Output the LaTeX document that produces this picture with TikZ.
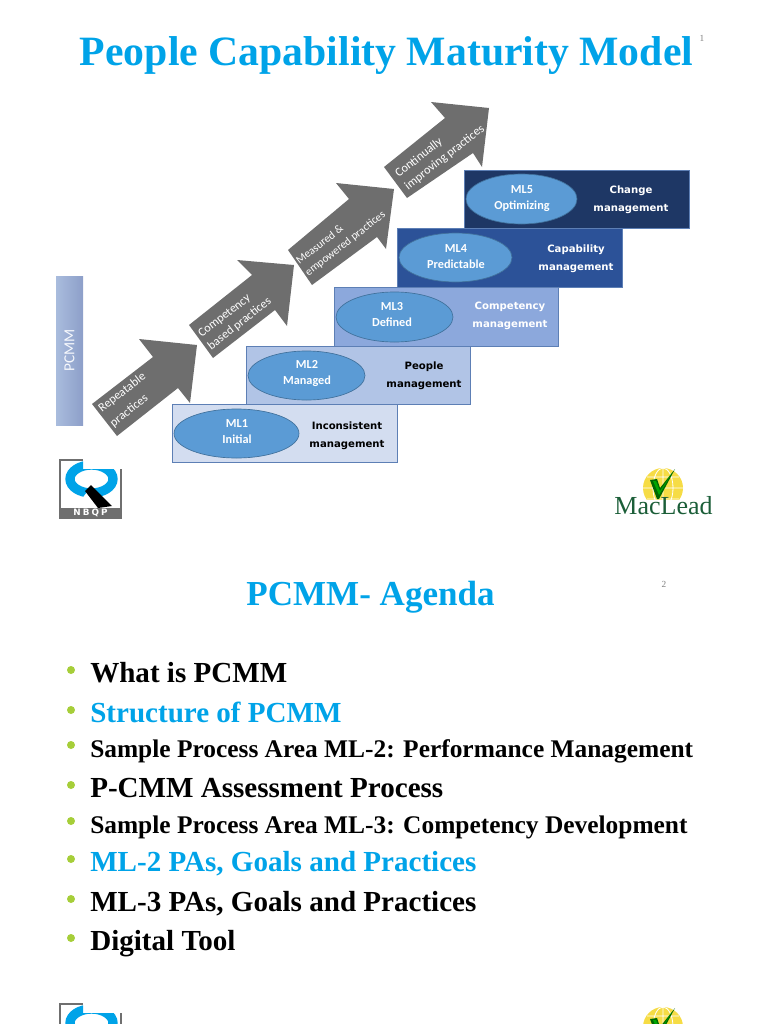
\documentclass[tikz,border=0pt]{standalone}
\usepackage{fontspec}
\setmainfont{Liberation Serif}
\newfontfamily\lab{Carlito}
\newfontfamily\boxf{DejaVu Sans}
\usetikzlibrary{shapes.geometric}
\definecolor{tblue}{HTML}{00A3E8}
\definecolor{bull}{HTML}{A6CE39}
\definecolor{garrow}{HTML}{6E6E6E}
\definecolor{ellc}{HTML}{5B9BD5}
\definecolor{elld}{HTML}{41719C}
\definecolor{mlone}{HTML}{D3DDF0}
\definecolor{mltwo}{HTML}{B1C4E6}
\definecolor{mlthree}{HTML}{8CA8DC}
\definecolor{mlfour}{HTML}{2C5298}
\definecolor{mlfive}{HTML}{1E3765}
\definecolor{edge}{HTML}{5D7FB5}
\definecolor{mlg}{HTML}{1B5E38}
\definecolor{barl}{HTML}{A9BCDD}
\definecolor{barr}{HTML}{8D9FC9}
\definecolor{globe}{HTML}{F6DC45}
\definecolor{nbgray}{HTML}{6F6F6F}
\tikzset{
 x=0.75pt,y=-0.75pt,
 mlbox/.style={draw=edge,line width=0.6pt},
 ell/.style={ellipse,draw=elld,fill=ellc,line width=0.5pt,inner sep=0pt,minimum width=#1},
 elltxt/.style={text=white,font=\lab\bfseries\fontsize{9.2}{12}\selectfont,align=center,inner sep=0pt},
 mgmt/.style={font=\boxf\bfseries\fontsize{7.6}{13.5}\selectfont,align=center,inner sep=0pt},
 arrowtxt/.style={text=white,font=\lab\fontsize{9.2}{#1}\selectfont,align=left,inner sep=0pt},
 gar/.style={fill=garrow,draw=none},
 item/.style={anchor=base west,inner sep=0pt,font=\bfseries\fontsize{#1}{#1}\selectfont},
 bul/.style={circle,fill=bull,inner sep=0pt,minimum size=6pt},
 pnum/.style={text=gray,font=\fontsize{7}{8}\selectfont,inner sep=0pt},
}
\newcommand{\nbqp}[2]{%
 \begin{scope}[shift={(#1,#2)}]
  \draw[nbgray,line width=0.8pt] (23,0) -- (0,0) -- (0,58) -- (61,58) -- (61,9);
  \begin{scope}
  \clip (1,1) rectangle (23,48) (23,9) rectangle (60,48);
  \draw[tblue,line width=7pt] (31.5,19) ellipse (21.5 and 14);
  \fill[white] (24,36) -- (31,27) -- (52,48) -- (16,48) -- cycle;
  \fill[black] (25,31) -- (31,25) -- (52,46) -- (38,48) -- cycle;
  \end{scope}
  \fill[nbgray] (0,48) rectangle (61,58);
 \end{scope}}
\newcommand{\maclogo}[3]{%
 \begin{scope}[shift={(#1,#2)}]
 \begin{scope}
 \clip (-21,-21) rectangle (21,#3);
 \fill[globe] (0,0) circle (20);
 \draw[white,line width=0.6pt] (-20,0) -- (20,0) (0,-20) -- (0,20) (-16,-11) -- (16,-11) (-16,11) -- (16,11) (0,0) ellipse (10 and 20);
 \end{scope}
 \fill[green!40!black] (-13,-8) -- (-6,-9) -- (-3,0) -- (12,-19) -- (-4,11) -- (-6,11) -- cycle;
 \fill[green!65!black] (-10,-7) -- (-7,-7) -- (-3,3) -- (9,-15) -- (-4,7) -- cycle;
 \end{scope}}
\begin{document}
\begin{tikzpicture}
\useasboundingbox (0,0) rectangle (768,1024);
% titles
\node[text=tblue,font=\bfseries\fontsize{31.3}{32}\selectfont,inner sep=0pt] (t1) at (386.5,55.5) {People Capability Maturity Model};
\node[pnum] (n1) at (702,38) {1};
\node[text=tblue,font=\bfseries\fontsize{26.3}{27}\selectfont,inner sep=0pt] (t2) at (370.5,597) {PCMM- Agenda};
\node[pnum] (n2) at (664,584) {2};
% PCMM bar
\node[draw=none,left color=barl,right color=barr,minimum width=20.25pt,minimum height=111.75pt,inner sep=0pt] (bar) at (69.5,350.5) {};
\node[rotate=90,text=white!90!barl,font=\lab\fontsize{11.5}{12}\selectfont,inner sep=0pt] (bart) at (69.5,350.5) {PCMM};
% arrows
\fill[gar] (92,404) -- (117,436) -- (178,388) -- (190,403) -- (197,345) -- (139,339) -- (153,357) -- cycle;
\node[arrowtxt=14,rotate=38] (a1) at (128,400) {Repeatable\\practices};
\fill[gar] (189,325) -- (213,358) -- (275,310) -- (287,326) -- (294,265) -- (237,260) -- (252,275) -- cycle;
\node[arrowtxt=11.5,rotate=38] (a2) at (235,318) {Competency\\based practices};
\fill[gar] (288,250) -- (312,285) -- (377,237) -- (386,249) -- (394,189) -- (336,183) -- (349,199) -- cycle;
\node[arrowtxt=11.5,rotate=38,font=\lab\fontsize{8.4}{11}\selectfont] (a3) at (341,238) {Measured \&\\empowered practices};
\fill[gar] (384,167) -- (407,198) -- (473,153) -- (482,167) -- (489,108) -- (431,102) -- (445,118) -- cycle;
\node[arrowtxt=11.5,rotate=38] (a4) at (440,151.5) {Continually\\improving practices};
% boxes
\node[mlbox,fill=mlone,minimum width=168.75pt,minimum height=43.5pt,inner sep=0pt] (b1) at (284.5,433) {};
\node[mlbox,fill=mltwo,minimum width=168pt,minimum height=43.5pt,inner sep=0pt] (b2) at (358,375) {};
\node[mlbox,fill=mlthree,minimum width=168pt,minimum height=44.25pt,inner sep=0pt] (b3) at (446,316.5) {};
\node[mlbox,fill=mlfour,minimum width=168.75pt,minimum height=44.25pt,inner sep=0pt] (b4) at (509.5,257.5) {};
\node[mlbox,fill=mlfive,minimum width=168.75pt,minimum height=43.5pt,inner sep=0pt] (b5) at (576.5,199) {};
% ellipses
\node[ell=93.75pt,minimum height=36.75pt] (e1) at (236.5,433.5) {};
\node[ell=87.75pt,minimum height=36.75pt] (e2) at (306.5,375.5) {};
\node[ell=87.75pt,minimum height=37.5pt] (e3) at (394.5,317) {};
\node[ell=84.75pt,minimum height=36.75pt] (e4) at (455.5,257.5) {};
\node[ell=83.25pt,minimum height=37.5pt] (e5) at (521.5,199) {};
\node[elltxt] (l1) at (237,432) {ML1\\Initial};
\node[elltxt] (l2) at (307,374) {ML2\\Managed};
\node[elltxt] (l3) at (392,315) {ML3\\Defined};
\node[elltxt] (l4) at (456,257) {ML4\\Predictable};
\node[elltxt] (l5) at (522,199) {ML5\\Optimizing};
\node[mgmt,text=black] (m1) at (347,436) {Inconsistent\\management};
\node[mgmt,text=black] (m2) at (424,375.5) {People\\management};
\node[mgmt,text=white] (m3) at (510,315.5) {Competency\\management};
\node[mgmt,text=white] (m4) at (576,258.5) {Capability\\management};
\node[mgmt,text=white] (m5) at (631,200) {Change\\management};
% logos
\nbqp{60}{460}
\node[text=white,font=\boxf\bfseries\fontsize{6.6}{8}\selectfont,inner sep=0pt] (nb) at (90.5,513) {N\hspace{1.6pt}B\hspace{1.6pt}Q\hspace{1.6pt}P};
\maclogo{663}{488}{11}
\node[text=mlg,font=\fontsize{19.5}{20}\selectfont,inner sep=0pt] (ml) at (663.5,506) {MacLead};
\nbqp{60}{1004}
\maclogo{663}{1027}{21}
% agenda
\foreach \nm/\y/\sz/\col/\txt in {
 i1/682/21.8/black/{What is PCMM},
 i2/722/21.8/tblue/{Structure of PCMM},
 i3/757/19.05/black/{Sample Process Area ML-2: Performance Management},
 i4/797/21.8/black/{P-CMM Assessment Process},
 i5/833/19.05/black/{Sample Process Area ML-3: Competency Development},
 i6/871/21.8/tblue/{ML-2 PAs, Goals and Practices},
 i7/911/21.8/black/{ML-3 PAs, Goals and Practices},
 i8/950/21.8/black/{Digital Tool}}{
 \node[item=\sz,text=\col] (\nm) at (90,\y) {\txt};
 \node[bul] (b\nm) at (71,\y-12) {};
}
\end{tikzpicture}
\end{document}
